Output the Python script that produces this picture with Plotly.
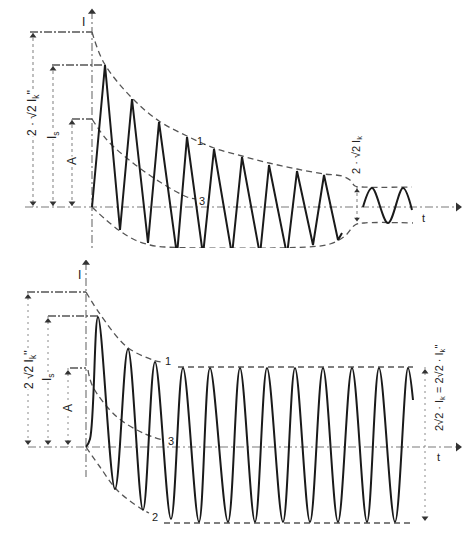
import plotly.graph_objects as go

# ---------------- Top diagram (decaying short-circuit current) ----------------
# time (diagram units), current (diagram units; 0 = time axis)
top_wave_t = [0, 13, 28, 40, 56, 67, 85, 95, 111, 122, 140, 150, 168, 177, 195, 205, 221, 232, 246, 250]
top_wave_i = [0, 142, -23, 108, -36, 85, -48, 70, -48, 58, -48, 50, -48, 42, -48, 36, -38, 32, -33, -26]

top_ss_t = [271, 280, 296, 311, 320]
top_ss_i = [0, 19, -16, 19, -3]

top_env1_t = [0, 12, 40, 67, 95, 122, 150, 177, 205, 232, 250, 258, 263, 270, 320]
top_env1_i = [175, 144, 109, 86, 71, 59, 51, 44, 38, 33, 31, 27, 21, 20, 20]

top_env2_t = [0, 13, 28, 43, 58, 73, 215, 238, 253, 263, 272, 321]
top_env2_i = [0, -12, -24, -33, -38, -40, -40, -37, -29, -18, -16, -16]

top_dc_t = [0, 15, 41, 68, 95, 104]
top_dc_i = [88, 67, 44, 25, 10, 8]

top_levels = {"ik2": 175, "is": 142, "a": 88}

# ---------------- Bottom diagram (generator far from short circuit) ----------------
bot_wave_t = [0, 4, 12, 29, 42, 57, 69, 85, 97, 113, 124, 142, 154, 169, 181, 197, 209, 224, 237, 252, 266, 281, 293, 309, 322, 327]
bot_wave_i = [0, 8, 130, -42, 98, -63, 85, -72, 79, -75, 79, -75, 79, -75, 79, -75, 79, -75, 79, -75, 79, -75, 79, -75, 79, 47]

bot_env1_t = [0, 14, 41, 67, 76]
bot_env1_i = [155, 133, 100, 87, 85]
bot_env1b_t = [92, 327]
bot_env1b_i = [80, 80]

bot_env2_t = [0, 14, 31, 54, 63]
bot_env2_i = [0, -20, -43, -61, -66]
bot_env2b_t = [78, 327]
bot_env2b_i = [-76, -76]

bot_dc_t = [2, 7, 31, 57, 77]
bot_dc_i = [77, 60, 30, 14, 7]

bot_levels = {"ik2": 155, "is": 131, "a": 79}

WAVE = "#1a1a1a"
ENV = "#555555"
AXC = "#7a7a7a"
DIM = "#8a8a8a"

fig = go.Figure()


def line(x, y, xa, ya, color, width, dash="solid", shape="linear"):
    fig.add_trace(go.Scatter(x=x, y=y, xaxis=xa, yaxis=ya, mode="lines",
                             line=dict(color=color, width=width, dash=dash, shape=shape, smoothing=1.0),
                             hoverinfo="skip", showlegend=False))


def marker(x, y, xa, ya, symbol, size, color):
    fig.add_trace(go.Scatter(x=[x], y=[y], xaxis=xa, yaxis=ya, mode="markers",
                             marker=dict(symbol=symbol, size=size, color=color, line=dict(width=0)),
                             hoverinfo="skip", showlegend=False))


def text(s, x, y, xr, yr, angle=0, size=12, bg=None):
    fig.add_annotation(text=s, x=x, y=y, xref=xr, yref=yr, showarrow=False, textangle=angle,
                       font=dict(family="Liberation Sans, Arial, sans-serif", size=size, color="#222"),
                       bgcolor=bg, borderpad=0)


# ===== top =====
xa, ya = "x", "y"
line([-67, 366], [0, 0], xa, ya, AXC, 1.2, "8px,3px,2px,3px")
marker(366, 0, xa, ya, "triangle-right", 8, "#333")
line([0, 0], [196, -45], xa, ya, AXC, 1.2, "8px,3px,2px,3px")
marker(0, 195, xa, ya, "triangle-up", 7, "#333")
line([-62, 0], [top_levels["ik2"]] * 2, xa, ya, ENV, 1.6, "8px,2px,2px,2px")
line([-40, 12], [top_levels["is"]] * 2, xa, ya, ENV, 1.6, "8px,2px,2px,2px")
line([-20, 0], [top_levels["a"]] * 2, xa, ya, ENV, 1.6, "8px,2px,2px,2px")
for dx, lv in [(-59, "ik2"), (-39, "is"), (-20, "a")]:
    line([dx, dx], [top_levels[lv], 0], xa, ya, DIM, 1.1, "3px,3px")
    marker(dx, top_levels[lv] - 4, xa, ya, "triangle-up", 6, "#333")
    marker(dx, 4, xa, ya, "triangle-down", 6, "#333")
line(top_env1_t, top_env1_i, xa, ya, ENV, 1.3, "6px,4px", "spline")
line(top_env2_t, top_env2_i, xa, ya, ENV, 1.3, "6px,4px", "spline")
line(top_dc_t, top_dc_i, xa, ya, ENV, 1.3, "6px,4px", "spline")
line([265, 265], [20, -16], xa, ya, DIM, 1.1, "3px,3px")
marker(265, 16, xa, ya, "triangle-up", 5, "#333")
marker(265, -12, xa, ya, "triangle-down", 5, "#333")
line(top_wave_t, top_wave_i, xa, ya, WAVE, 2.0)
line(top_ss_t, top_ss_i, xa, ya, WAVE, 2.0, "solid", "spline")

text("I", -9, 185, xa, ya, 0, 12)
text("2 · √2 I<sub>k</sub>''", -59, 94, xa, ya, -90, 12, "white")
text("I<sub>s</sub>", -39, 72, xa, ya, -90, 12, "white")
text("A", -20, 46, xa, ya, -90, 12, "white")
text("1.", 109, 66, xa, ya, 0, 11)
text("3", 110, 6, xa, ya, 0, 11)
text("2 · √2 I<sub>k</sub>", 265, 52, xa, ya, -90, 11, "white")
text("t", 331, -11, xa, ya, 0, 11)

# ===== bottom =====
xa, ya = "x2", "y2"
line([-58, 372], [0, 0], xa, ya, AXC, 1.2, "8px,3px,2px,3px")
marker(372, 0, xa, ya, "triangle-right", 8, "#333")
line([0, 0], [185, -30], xa, ya, AXC, 1.2, "8px,3px,2px,3px")
marker(0, 184, xa, ya, "triangle-up", 7, "#333")
line([-59, 0], [bot_levels["ik2"]] * 2, xa, ya, ENV, 1.3, "8px,2px,2px,2px")
line([-38, 14], [bot_levels["is"]] * 2, xa, ya, ENV, 1.3, "8px,2px,2px,2px")
line([-16, 0], [bot_levels["a"]] * 2, xa, ya, ENV, 1.3, "8px,2px,2px,2px")
for dx, lv in [(-58, "ik2"), (-38, "is"), (-18, "a")]:
    line([dx, dx], [bot_levels[lv], 0], xa, ya, DIM, 1.0, "2px,4px")
    marker(dx, bot_levels[lv] - 5, xa, ya, "triangle-up", 6, "#333")
    marker(dx, 5, xa, ya, "triangle-down", 6, "#333")
line(bot_env1_t, bot_env1_i, xa, ya, ENV, 1.3, "6px,4px", "spline")
line(bot_env1b_t, bot_env1b_i, xa, ya, ENV, 1.3, "6px,4px")
line(bot_env2_t, bot_env2_i, xa, ya, ENV, 1.3, "6px,4px", "spline")
line(bot_env2b_t, bot_env2b_i, xa, ya, ENV, 1.3, "6px,4px")
line(bot_dc_t, bot_dc_i, xa, ya, ENV, 1.3, "6px,4px", "spline")
line([339, 339], [80, -76], xa, ya, DIM, 1.0, "2px,4px")
marker(339, 75, xa, ya, "triangle-up", 6, "#333")
marker(339, -71, xa, ya, "triangle-down", 6, "#333")
line(bot_wave_t, bot_wave_i, xa, ya, WAVE, 2.0, "solid", "spline")

text("I", -7, 172, xa, ya, 0, 12)
text("2 √2 I<sub>k</sub>''", -56, 77, xa, ya, -90, 12, "white")
text("I<sub>s</sub>", -38, 70, xa, ya, -90, 12, "white")
text("A", -18, 39, xa, ya, -90, 12, "white")
text("1", 82, 86, xa, ya, 0, 11)
text("2", 69, -70, xa, ya, 0, 11)
text("3", 85, 6, xa, ya, 0, 11)
text("2√2 · I<sub>k</sub> = 2√2 · I<sub>k</sub>''", 354, 59, xa, ya, -90, 11)
text("t", 352, -10, xa, ya, 0, 11)

# The page body has an 8 px margin, so the figure is 8 px smaller and the
# axis ranges are chosen so that the drawing lands where the reference has it.
W, H = 466, 534
ax = dict(visible=False, showgrid=False, zeroline=False, fixedrange=True)
fig.update_layout(
    width=W, height=H, margin=dict(l=0, r=0, t=0, b=0),
    paper_bgcolor="white", plot_bgcolor="white", showlegend=False,
    xaxis=dict(ax, domain=[0, 1], range=[-84, 382]),
    yaxis=dict(ax, domain=[1 - 240 / H, 1], range=[-41, 199]),
    xaxis2=dict(ax, domain=[0, 1], range=[-78, 388], anchor="y2"),
    yaxis2=dict(ax, domain=[0, 1 - 252 / H], range=[-95, 187], anchor="x2"),
)
fig.write_html("out.html")
